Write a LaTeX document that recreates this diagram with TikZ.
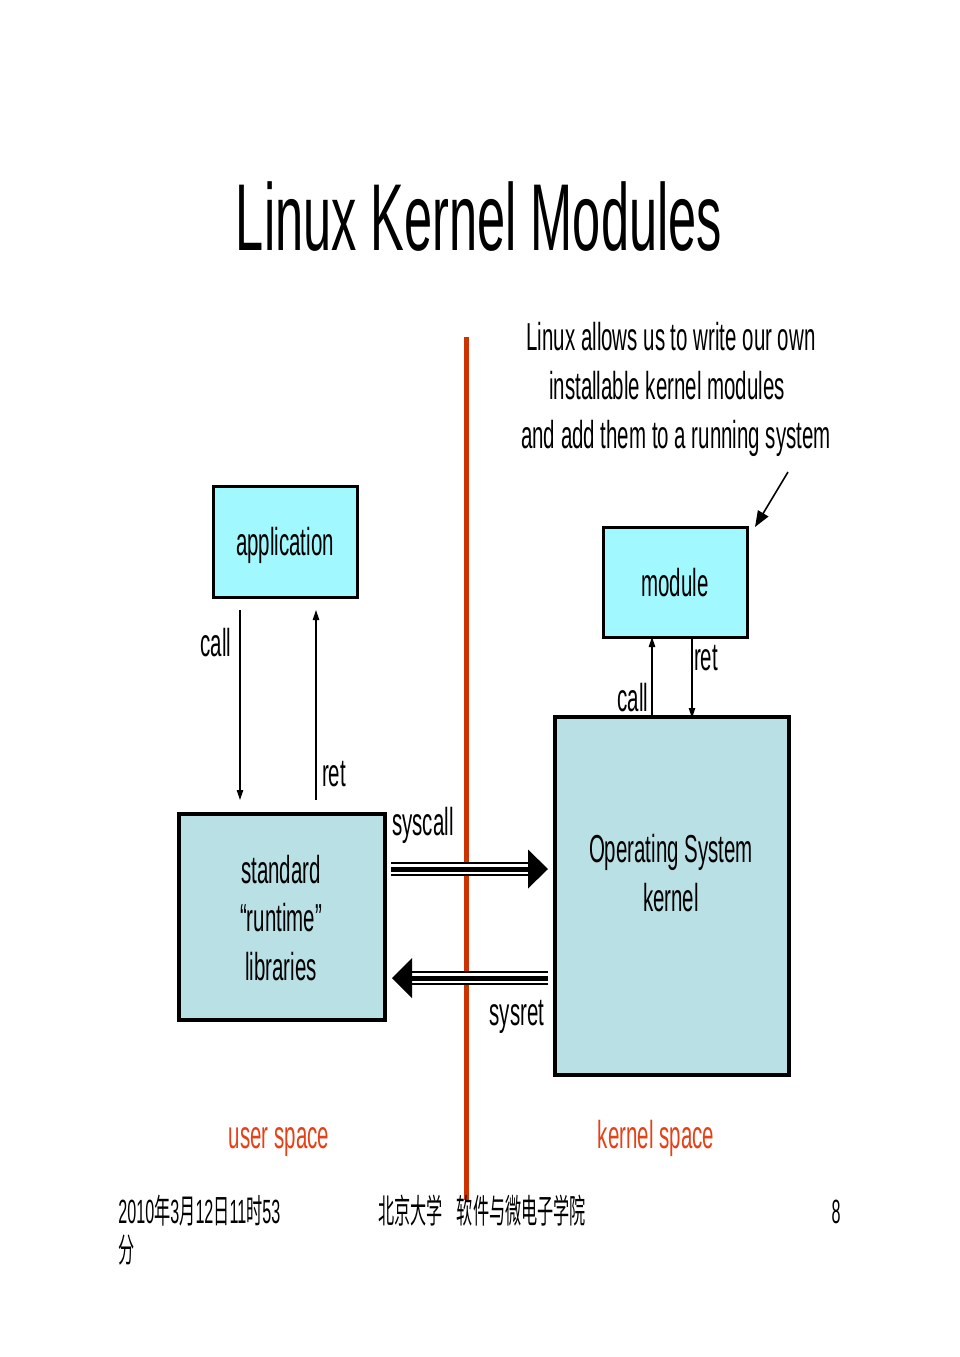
\documentclass[tikz,border=0pt]{standalone}
\usepackage{fontspec}
\setmainfont[FakeStretch=0.525]{Liberation Sans}
\newfontfamily\titlefont[FakeStretch=0.532]{Liberation Sans}
\newfontfamily\footfont[FakeStretch=0.48]{Liberation Sans}
\newfontfamily\cjk[FakeStretch=0.48]{Noto Sans CJK SC}
\usetikzlibrary{arrows.meta,calc}
\definecolor{aquafill}{RGB}{162,248,255}
\definecolor{greyfill}{RGB}{185,224,228}
\definecolor{redline}{RGB}{204,51,0}
\definecolor{redtext}{RGB}{232,64,22}
\tikzset{
  titletext/.style={font=\titlefont\fontsize{47.5}{57}\selectfont, anchor=base},
  bodytext/.style={font=\fontsize{19.5}{24.5}\selectfont, anchor=base, inner sep=0pt},
  foottext/.style={font=\footfont\fontsize{16.8}{20}\selectfont, anchor=base west, inner sep=0pt},
  spacetext/.style={bodytext, text=redtext},
  lightbox/.style={draw=black, line width=1.5pt, fill=aquafill, inner sep=0pt},
  greybox/.style={draw=black, line width=2pt, fill=greyfill, inner sep=0pt},
  thinarrow/.style={line width=0.6pt, -{Triangle[length=5pt,width=3.2pt]}},
}
\begin{document}
\begin{tikzpicture}[x=0.5pt,y=-0.5pt]
\useasboundingbox (0,0) rectangle (960,1357);
\fill[white] (0,0) rectangle (960,1357);

% title
\node[titletext] (title) at (479,250) {Linux Kernel Modules};

% explanation
\node[bodytext] (expl1) at (671,350) {Linux allows us to write our own};
\node[bodytext] (expl2) at (667,399) {installable kernel modules};
\node[bodytext] (expl3) at (676,448) {and add them to a running system};

% red divider
\coordinate (divtop) at (466,337);
\coordinate (divbot) at (466,1200);
\draw[redline, line width=2.5pt] (divtop) -- (divbot);

% boxes
\node[lightbox, minimum width=72pt, minimum height=55.5pt] (app) at (285,541.5) {};
\node[lightbox, minimum width=72pt, minimum height=55pt] (module) at (675,582) {};
\node[greybox, minimum width=103pt, minimum height=103pt] (std) at (282,917) {};
\node[greybox, minimum width=117pt, minimum height=179pt] (kern) at (672,896) {};

% box texts
\node[bodytext] (apptxt) at (285,555) {application};
\node[bodytext] (modtxt) at (675,596) {module};
\node[bodytext] (std1) at (281,883) {standard};
\node[bodytext] (std2) at (281,931) {“runtime”};
\node[bodytext] (std3) at (281,980) {libraries};
\node[bodytext] (kern1) at (671,862) {Operating System};
\node[bodytext] (kern2) at (671,911) {kernel};

% app <-> std arrows
\coordinate (c1s) at (240,610);
\coordinate (c1e) at (240,800);
\coordinate (r1s) at (316,800);
\coordinate (r1e) at (316,610);
\draw[thinarrow] (c1s) -- (c1e);
\draw[thinarrow] (r1s) -- (r1e);
\node[bodytext] (calll) at (216,656) {call};
\node[bodytext] (retl) at (334,786) {ret};

% module <-> kernel arrows
\coordinate (c2s) at (652,718);
\coordinate (c2e) at (652,637);
\coordinate (r2s) at (692,637);
\coordinate (r2e) at (692,718);
\draw[thinarrow] (c2s) -- (c2e);
\draw[thinarrow] (r2s) -- (r2e);
\node[bodytext] (retr) at (706,670) {ret};
\node[bodytext] (callr) at (633,711) {call};

% pointer to module
\coordinate (ptrs) at (788,472);
\coordinate (ptre) at (755,527);
\draw[line width=0.8pt, -{Triangle[length=8pt,width=6pt]}] (ptrs) -- (ptre);

% syscall arrow
\coordinate (sc1) at (391,869);
\coordinate (sc2) at (528,869);
\coordinate (sctip) at (548,869);
\draw[line width=7pt, black] (sc1) -- (sc2);
\draw[line width=5pt, white] (sc1) -- (sc2);
\draw[line width=2.5pt, black] (sc1) -- (sc2);
\fill[black] ($(sc2)+(0,-19.5)$) -- (sctip) -- ($(sc2)+(0,19.5)$) -- cycle;
\node[bodytext] (syscall) at (423,835) {syscall};

% sysret arrow
\coordinate (sr1) at (548,978);
\coordinate (sr2) at (412,978);
\coordinate (srtip) at (392,978);
\draw[line width=7pt, black] (sr1) -- (sr2);
\draw[line width=5pt, white] (sr1) -- (sr2);
\draw[line width=2.5pt, black] (sr1) -- (sr2);
\fill[black] ($(sr2)+(0,-20)$) -- (srtip) -- ($(sr2)+(0,20)$) -- cycle;
\node[bodytext] (sysret) at (517,1025) {sysret};

% space labels
\node[spacetext] (user) at (279,1148) {user space};
\node[spacetext] (kspace) at (656,1148) {kernel space};

% footer
\node[foottext] (date) at (118,1223) {2010{\cjk 年}3{\cjk 月}12{\cjk 日}11{\cjk 时}53};
\node[foottext] (min) at (118,1262) {{\cjk 分}};
\node[foottext] (univ) at (378,1223) {{\cjk 北京大学\hspace{7pt}软件与微电子学院}};
\node[foottext, anchor=base] (page) at (836,1223) {8};
\end{tikzpicture}
\end{document}
